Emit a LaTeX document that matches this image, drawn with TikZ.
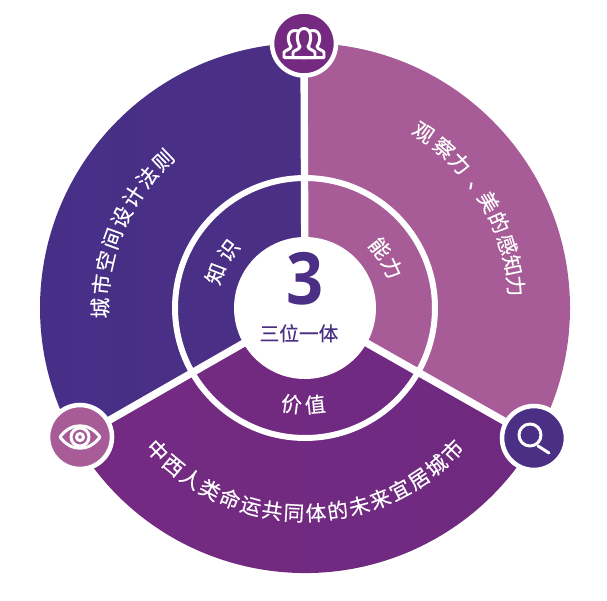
\documentclass[tikz,border=0pt]{standalone}
\usepackage{fontspec}
\setmainfont{Noto Sans CJK SC}
\newfontfamily\digitfont{Open Sans}
\newfontfamily\glyphfont{Noto Sans CJK SC}[FakeBold=0.25]
\definecolor{indigoPart}{HTML}{4B2F85}
\definecolor{indigoDeep}{HTML}{472F87}
\definecolor{mauvePart}{HTML}{A75C98}
\definecolor{plumPart}{HTML}{752A82}
\definecolor{plumDeep}{HTML}{6E2A80}
\begin{document}
\begin{tikzpicture}[x=0.02cm,y=0.02cm,
    spoke/.style={draw=white,line width=4.2pt},
    hub/.style={circle,draw=white,line width=2.6pt,minimum size=1.28cm},
    glyph/.style={text=white,font=\glyphfont\fontsize{11.8}{12}\selectfont,inner sep=0pt,text height=10.4pt,text depth=1.4pt},
    iconline/.style={draw=white,line width=1.7pt,line cap=round,line join=round}]
\useasboundingbox (-305,-292) rectangle (302,308);
\coordinate (core)      at (0,0);
\coordinate (peopleHub) at (-1,264.5);
\coordinate (eyeHub)    at (-225,-129);
\coordinate (lensHub)   at (229,-130);
\shade[left color=indigoDeep,right color=indigoPart] (core) -- (90:265) arc[start angle=90,end angle=210,radius=265] -- cycle;
\fill[mauvePart] (core) -- (90:265) arc[start angle=90,end angle=-30,radius=265] -- cycle;
\shade[left color=plumPart,right color=plumDeep] (core) -- (210:265) arc[start angle=210,end angle=330,radius=265] -- cycle;
\draw[spoke] (core) -- (peopleHub);
\draw[spoke] (core) -- (eyeHub);
\draw[spoke] (core) -- (lensHub);
\node[circle,draw=white,line width=3.4pt,minimum size=5.2cm] (ring) at (core) {};
\node[circle,fill=white,minimum size=2.84cm] (heart) at (core) {};
\node[hub,fill=plumPart]   (people) at (peopleHub) {};
\node[hub,fill=mauvePart]  (eye)    at (eyeHub)    {};
\node[hub,fill=indigoPart] (lens)   at (lensHub)   {};
\node[text=indigoPart,font=\digitfont\bfseries\fontsize{41}{42}\selectfont,inner sep=0pt,xscale=.9,transform shape] (three) at (0,29.5) {3};
\node[glyph,text=indigoPart,font=\glyphfont\fontsize{11.2}{12}\selectfont] (motto) at (-6,-25) {三位一体};
\foreach \ch [count=\i,evaluate=\i as \ang using 180-6.6*(\i-1)] in {城,市,空,间,设,计,法,则}
  \node[glyph,rotate=\ang-90] (law\i) at (\ang:205) {\ch};
\foreach \ch/\ang [count=\i] in {观/56,察/49,力/43,、/34.6,美/30,的/23.8,感/17.4,知/11.6,力/6}
  \node[glyph,rotate=\ang-90] (sense\i) at (\ang:212) {\ch};
\foreach \ch [count=\i,evaluate=\i as \ang using -136+6.13*(\i-1)] in {中,西,人,类,命,运,共,同,体,的,未,来,宜,居,城,市}
  \node[glyph,rotate=\ang+90] (city\i) at (\ang:205) {\ch};
\foreach \ch/\ang [count=\i] in {知/159,识/143,能/38.5,力/24.7}
  \node[glyph,rotate=\ang-90] (inner\i) at (\ang:96) {\ch};
\foreach \ch/\ang [count=\i] in {价/-98,值/-84}
  \node[glyph,rotate=\ang+90] (worth\i) at (\ang:97) {\ch};
\begin{scope}[shift={(peopleHub)}]
  \foreach \x/\up in {-9/-1,9/-1,0/1}
    \draw[iconline,fill=plumPart,xshift=\x*0.02cm] (-4,-3) .. controls (-8,2) and (-8,14+\up) .. (0,14+\up) .. controls (8,14+\up) and (8,2) .. (4,-3) .. controls (4,-6) and (11,-7) .. (11,-9) -- (11,-14) -- (-11,-14) -- (-11,-9) .. controls (-11,-7) and (-4,-6) .. (-4,-3) -- cycle;
\end{scope}
\begin{scope}[shift={(eyeHub)}]
  \draw[iconline] (-20,0) .. controls (-9,15) and (9,15) .. (20,0) .. controls (9,-15) and (-9,-15) .. (-20,0) -- cycle;
  \draw[iconline] (0,0) circle[radius=9];
  \draw[iconline] (0,0) circle[radius=3.5];
\end{scope}
\begin{scope}[shift={(lensHub)}]
  \draw[iconline] (-4,3) circle[radius=11];
  \draw[iconline] (4,-8) -- (15,-15);
\end{scope}
\end{tikzpicture}
\end{document}
